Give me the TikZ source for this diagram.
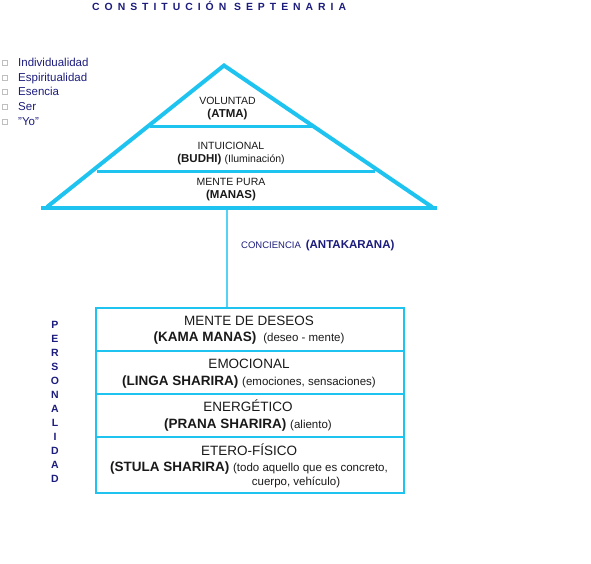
\documentclass[tikz,border=0pt]{standalone}
\usepackage{fontspec}
\setmainfont{Liberation Sans}
\newfontfamily\titlefont[LetterSpace=48, UprightFont={* Bold}]{Liberation Sans}
\definecolor{cy}{RGB}{30,195,240}
\definecolor{navy}{RGB}{28,28,125}
\definecolor{ink}{RGB}{25,25,25}
\newcommand\fsz[1]{\fontsize{#1}{#1}\selectfont}
\begin{document}
\begin{tikzpicture}[x=1pt,y=-1pt,
  txt/.style={inner sep=0pt, anchor=base, text=ink},
  navytxt/.style={inner sep=0pt, text=navy},
  thickline/.style={draw=cy, line width=4pt},
  midline/.style={draw=cy, line width=3pt},
  boxline/.style={draw=cy, line width=2pt},
  thinline/.style={draw=cy!75, line width=1.3pt},
  bullet/.style={draw=black!25, line width=0.5pt, minimum size=5pt, inner sep=0pt}]
\useasboundingbox (0,0) rectangle (591,564);

% title
\node[navytxt, anchor=base west] (title) at (92,10.7)
  {\titlefont\fsz{10.4}CONSTITUCIÓN SEPTENARIA};

% list
\foreach \t/\y [count=\i] in {Individualidad/66.5, Espiritualidad/81.2, Esencia/95.9, Ser/110.6, "Yo"/125.3}{
  \node[bullet] (b\i) at (4.5,\y-3.8) {};
  \node[navytxt, anchor=base west] (l\i) at (18,\y) {\fsz{11.5}\t};
}

% triangle
\draw[thickline, line join=miter] (47,207) -- (224,65.5) -- (432,207);
\draw[thickline] (41,208) -- (437,208);
\draw[midline] (150,127) -- (315,127);
\draw[midline] (97,172) -- (375,172);

\node[txt] (vol) at (227.5,105) {\fsz{10.5}VOLUNTAD};
\node[txt] (atma) at (227.5,117.5) {\fsz{11.5}\bfseries(ATMA)};
\node[txt] (intu) at (231,150) {\fsz{10.5}INTUICIONAL};
\node[txt] (budhi) at (231,163) {\fsz{11.5}\textbf{(BUDHI)} {\fsz{10.5}(Iluminación)}};
\node[txt] (mpura) at (231,185.5) {\fsz{10.5}MENTE PURA};
\node[txt] (manas) at (231,198) {\fsz{11.5}\bfseries(MANAS)};

% connector
\coordinate (tb) at (227,210);
\node[draw=none, minimum width=308pt, minimum height=185pt, inner sep=0pt] (box) at (250,400.5) {};
\draw[thinline] (tb) -- (tb |- box.north);
\node[navytxt, anchor=base west] (conc) at (241,248)
  {\fsz{9.5}CONCIENCIA\hspace{5pt}{\fsz{11.5}\bfseries(ANTAKARANA)}};

% boxes
\draw[boxline] (box.north west) rectangle (box.south east);
\draw[boxline] (96,351) -- (404,351);
\draw[boxline] (96,394) -- (404,394);
\draw[boxline] (96,437) -- (404,437);

\node[txt] (m1) at (249,325) {\fsz{13.5}MENTE DE DESEOS};
\node[txt] (m2) at (249,341.7) {\fsz{13.5}\textbf{(KAMA MANAS)}\hspace{7pt}{\fsz{11.5}(deseo - mente)}};
\node[txt] (e1) at (249,368.3) {\fsz{13.5}EMOCIONAL};
\node[txt] (e2) at (249,385) {\fsz{13.5}\textbf{(LINGA SHARIRA)} {\fsz{11.5}(emociones, sensaciones)}};
\node[txt] (p1) at (248,411.7) {\fsz{13.5}ENERGÉTICO};
\node[txt] (p2) at (248,428.3) {\fsz{13.5}\textbf{(PRANA SHARIRA)} {\fsz{11.5}(aliento)}};
\node[txt] (s1) at (249,455) {\fsz{13.5}ETERO-FÍSICO};
\node[txt] (s2) at (249,471.7) {\fsz{13.5}\textbf{(STULA SHARIRA)} {\fsz{11.5}(todo aquello que es concreto,}};
\node[txt] (s3) at (296,485) {\fsz{11.5}cuerpo, vehículo)};

% personalidad
\node[navytxt, align=center, anchor=north, font={\fontsize{10.5}{14}\selectfont\bfseries}] (pers) at (55,321.5)
  {P\\E\\R\\S\\O\\N\\A\\L\\I\\D\\A\\D};
\end{tikzpicture}
\end{document}
